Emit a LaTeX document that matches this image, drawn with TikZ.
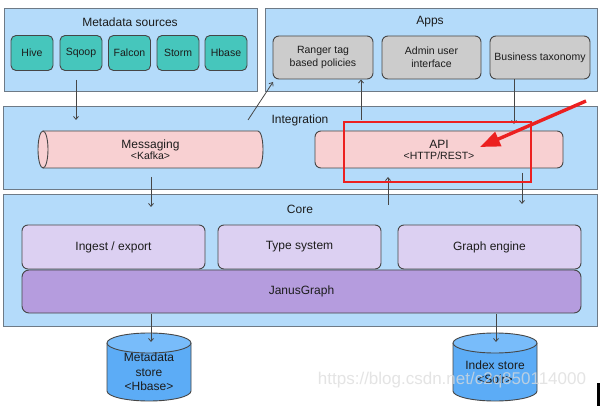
\documentclass[tikz,border=0pt]{standalone}
\usepackage{fontspec}
\setmainfont{Liberation Sans}
\usetikzlibrary{arrows.meta}
\definecolor{contfill}{RGB}{180,219,250}
\definecolor{contline}{RGB}{110,122,134}
\definecolor{teal}{RGB}{70,198,188}
\definecolor{grayfill}{RGB}{204,204,204}
\definecolor{pinkfill}{RGB}{248,208,210}
\definecolor{lpurple}{RGB}{220,208,242}
\definecolor{dpurple}{RGB}{181,156,222}
\definecolor{storeblue}{RGB}{92,172,246}
\definecolor{storetop}{RGB}{120,188,250}
\definecolor{txt}{RGB}{28,28,28}
\definecolor{edge}{RGB}{70,70,70}
\definecolor{annred}{RGB}{236,32,32}
\tikzset{
  container/.style={draw=contline, fill=contfill, line width=0.9pt, inner sep=0pt},
  srcbox/.style={draw=edge, fill=teal, rounded corners=5pt, line width=0.9pt, minimum width=42pt, minimum height=35pt, inner sep=0pt, font=\fontsize{10.5}{12}\selectfont, text=txt},
  appbox/.style={draw=edge, fill=grayfill, rounded corners=6pt, line width=0.9pt, minimum height=43pt, inner sep=0pt, align=center, font=\fontsize{10.5}{13}\selectfont, text=txt},
  corebox/.style={draw=edge, fill=lpurple, rounded corners=6pt, line width=0.9pt, minimum height=44pt, inner sep=0pt, font=\fontsize{12}{14}\selectfont, text=txt},
  title/.style={font=\fontsize{12}{14}\selectfont, text=txt},
  conn/.style={draw=edge, line width=0.8pt, -{Straight Barb[length=3pt,width=5pt]}},
  lbl/.style={align=center, text=txt},
}
\begin{document}
\begin{tikzpicture}[x=1pt, y=-1pt]
\useasboundingbox (0,0) rectangle (600,406);
\fill[white] (0,0) rectangle (600,406);

% containers
\node[container, minimum width=253pt, minimum height=83pt] (srcs) at (130.5,49.5) {};
\node[container, minimum width=332pt, minimum height=83pt] (apps) at (431,49.5) {};
\node[container, minimum width=594pt, minimum height=83pt] (integ) at (300,147.5) {};
\node[container, minimum width=594pt, minimum height=132pt] (core) at (300,260) {};

\node[title] (tsrcs) at (130,22) {Metadata sources};
\node[title] (tapps) at (430,22) {Apps};
\node[title] (tinteg) at (300,120) {Integration};
\node[title] (tcore) at (300,209) {Core};

% sources
\node[srcbox] (hive) at (32,53) {Hive};
\node[srcbox] (sqoop) at (81,53) {Sqoop};
\node[srcbox] (falcon) at (129.5,53) {Falcon};
\node[srcbox] (storm) at (178,53) {Storm};
\node[srcbox] (hbase) at (226,53) {Hbase};

% apps
\node[appbox, minimum width=100pt] (ranger) at (323,57.5) {Ranger tag\\based policies};
\node[appbox, minimum width=99pt] (admin) at (431.5,57.5) {Admin user\\interface};
\node[appbox, minimum width=100pt] (biz) at (540,57.5) {Business taxonomy};

% messaging cylinder
\fill[pinkfill] (43,131) -- (258,131) arc[start angle=-90, end angle=90, x radius=5, y radius=18.5] -- (43,168) -- cycle;
\draw[edge, line width=0.9pt] (43,131) -- (258,131) arc[start angle=-90, end angle=90, x radius=5, y radius=18.5] -- (43,168);
\draw[edge, line width=0.9pt, fill=pinkfill] (43,149.5) ellipse[x radius=5, y radius=18.5];
\node[lbl, minimum width=225pt, minimum height=37pt, inner sep=0pt] (msg) at (150.5,150) {{\fontsize{12}{14}\selectfont Messaging}\\[-1pt]{\fontsize{10.5}{12}\selectfont <Kafka>}};

% API
\node[draw=edge, fill=pinkfill, rounded corners=6pt, line width=0.9pt, minimum width=248pt, minimum height=37pt, inner sep=0pt, lbl] (api) at (439,149.5) {{\fontsize{12}{14}\selectfont API}\\[-1pt]{\fontsize{10.5}{12}\selectfont <HTTP/REST>}};

% core
\node[draw=edge, fill=dpurple, rounded corners=7pt, line width=0.9pt, minimum width=559pt, minimum height=43pt, inner sep=0pt, font=\fontsize{12}{14}\selectfont, text=txt] (janus) at (301.5,291.5) {JanusGraph};
\node[corebox, minimum width=183pt] (ingest) at (113.5,247) {Ingest / export};
\node[corebox, minimum width=163pt] (types) at (299.5,247) {Type system};
\node[corebox, minimum width=183pt] (gengine) at (489.5,247) {Graph engine};

% stores
\foreach \cx in {149, 495}{
  \fill[storeblue] (\cx-42,343) -- (\cx-42,391) arc[start angle=180, end angle=0, x radius=42, y radius=10] -- (\cx+42,343) -- cycle;
  \draw[edge, line width=0.9pt] (\cx-42,343) -- (\cx-42,391) arc[start angle=180, end angle=0, x radius=42, y radius=10] -- (\cx+42,343);
  \draw[edge, line width=0.9pt, fill=storetop] (\cx,343) ellipse[x radius=42, y radius=10];
}
\node[lbl, font=\fontsize{12}{14.5}\selectfont, inner sep=0pt] (mstore) at (149,372) {Metadata\\store\\<Hbase>};
\node[lbl, font=\fontsize{12}{14.5}\selectfont, inner sep=0pt] (istore) at (495,372) {Index store\\<Solr>};

% connector end points
\coordinate (s1) at (76,80);
\coordinate (s2) at (76,120);
\coordinate (m1) at (151,177);
\coordinate (m2) at (151,207);
\coordinate (d1) at (248,120);
\coordinate (d2) at (273,82);
\coordinate (a1) at (361,120);
\coordinate (b2) at (514,124);
\coordinate (c1) at (388,205);
\coordinate (c2) at (388,177);
\coordinate (e1) at (522,173);
\coordinate (e2) at (522,204);
\coordinate (j1) at (151,313.5);
\coordinate (j2) at (151,342);
\coordinate (k1) at (496,313.5);
\coordinate (k2) at (496,342);

\draw[conn] (s1) -- (s2);
\draw[conn] (m1) -- (m2);
\draw[conn] (d1) -- (d2);
\draw[conn] (a1) -- (a1 |- ranger.south);
\draw[conn] (b2 |- biz.south) -- (b2);
\draw[conn] (c1) -- (c2);
\draw[conn] (e1) -- (e2);
\draw[conn] (j1) -- (j2);
\draw[conn] (k1) -- (k2);

% annotation
\node[draw=annred, line width=2.6pt, minimum width=187pt, minimum height=60pt, inner sep=0pt] (hl) at (437.5,152) {};
\coordinate (r1) at (586,101);
\coordinate (r2) at (480,147);
\draw[annred, line width=3.4pt, -{Triangle[length=20pt,width=15pt]}] (r1) -- (r2);

% watermark
\node[text=white!72!gray, opacity=0.75, font=\fontsize{17}{20}\selectfont, inner sep=0pt] (wm) at (452,380) {https://blog.csdn.net/c2q850114000};
\fill[black] (597,383) rectangle (600,406);
\end{tikzpicture}
\end{document}
